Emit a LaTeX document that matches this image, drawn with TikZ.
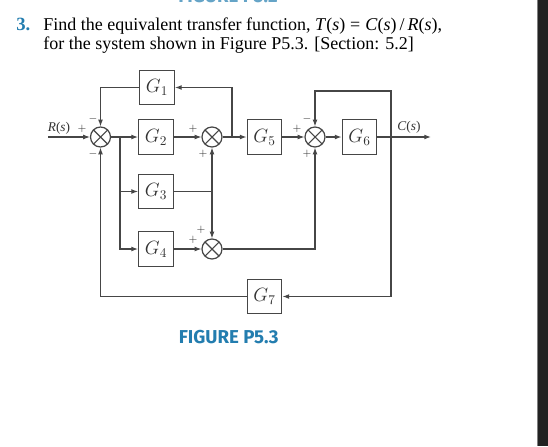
\documentclass[tikz,border=0pt]{standalone}
\usepackage{fontspec}
\setmainfont{Liberation Serif}
\newfontfamily\figfont{Fira Sans}
\usetikzlibrary{arrows.meta}
\definecolor{figblue}{RGB}{35,125,175}
\definecolor{ln}{RGB}{70,70,70}
\definecolor{bar}{RGB}{34,34,34}
\begin{document}
\begin{tikzpicture}[x=0.75pt,y=-0.75pt,
  blk/.style={draw=ln, line width=0.9pt, minimum width=26pt, minimum height=26pt, inner sep=0pt, text=black!80, font=\Large},
  sumj/.style={draw=ln, circle, line width=0.9pt, minimum size=15pt, inner sep=0pt,
    path picture={\draw[ln, line width=0.8pt] (path picture bounding box.north west)--(path picture bounding box.south east) (path picture bounding box.north east)--(path picture bounding box.south west);}},
  wire/.style={draw=ln, line width=0.8pt},
  arr/.style={wire, -{Latex[length=5pt,width=3.6pt]}},
  sgn/.style={font=\footnotesize, text=black!80, inner sep=0pt},
  lbl/.style={font=\normalsize, text=black!80, inner sep=0pt}]
\useasboundingbox[fill=white] (0,0) rectangle (548,446);
\fill[bar] (537,0) rectangle (548,446);
\draw[gray, line width=0.6pt] (537.5,0) -- (537.5,446);
% cut-off caption of the previous figure
\node[anchor=base west, inner sep=0pt, text=figblue!70, font=\figfont\bfseries\fontsize{14}{16}\selectfont] (prevcap) at (178,2.2) {FIGURE P5.2};
% title
\node[anchor=base west, inner sep=0pt, text=figblue, font=\bfseries\fontsize{14}{16}\selectfont] (num) at (16,30) {3.};
\node[anchor=base west, inner sep=0pt, font=\fontsize{13.5}{16}\selectfont] (t1) at (43,30) {Find the equivalent transfer function, \textit{T}(\textit{s})\;=\;\textit{C}(\textit{s})\,/\,\textit{R}(\textit{s}),};
\node[anchor=base west, inner sep=0pt, font=\fontsize{13.5}{16}\selectfont] (t2) at (43,49.5) {for the system shown in Figure P5.3. [Section: 5.2]};
% blocks and summing junctions
\node[sumj] (s1) at (100.5,137) {};
\node[blk] (g1) at (157,87.5) {$G_1$};
\node[blk] (g2) at (156,137) {$G_2$};
\node[blk] (g3) at (156,191.5) {$G_3$};
\node[blk] (g4) at (156,249) {$G_4$};
\node[sumj] (s2) at (212,137) {};
\node[sumj] (s4) at (212,249) {};
\node[blk] (g5) at (264.5,137) {$G_5$};
\node[sumj] (s3) at (315,137) {};
\node[blk] (g6) at (359.5,137) {$G_6$};
\node[blk] (g7) at (264.5,296.5) {$G_7$};
% coordinates
\coordinate (rin) at (48,137);
\coordinate (cout) at (431,137);
\coordinate (b1) at (120,137);
\coordinate (b2) at (232,137);
\coordinate (j3) at (212,191.5);
\coordinate (b3) at (391,137);
\coordinate (s3t) at (315,91);
% connectors
\draw[arr] (rin) -- (s1);
\draw[arr] (s1) -- (g2);
\draw[arr] (b1) |- (g3);
\draw[arr] (b1) |- (g4);
\draw[arr] (g2) -- (s2);
\draw[arr] (s2) -- (g5);
\draw[arr] (b2) |- (g1);
\draw[arr] (g1) -| (s1);
\draw[arr] (g5) -- (s3);
\draw[arr] (s3) -- (g6);
\draw[arr] (g6) -- (cout);
\draw[arr] (b3) |- (s3t) -- (s3);
\draw[arr] (b3) |- (g7);
\draw[arr] (g7) -| (s1);
\draw[wire] (g3) -- (j3);
\draw[arr] (j3) -- (s2);
\draw[arr] (j3) -- (s4);
\draw[arr] (g4) -- (s4);
\draw[arr] (s4) -| (s3);
% signal labels
\node[lbl] (rl) at (59,128) {\textit{R}(\textit{s})};
\node[lbl] (cl) at (409,127) {\textit{C}(\textit{s})};
% signs
\node[sgn] at (82,129) {$+$};
\node[sgn] at (93,119) {$-$};
\node[sgn] at (93,153.5) {$-$};
\node[sgn] at (193,129) {$+$};
\node[sgn] at (203,153.5) {$+$};
\node[sgn] at (297,129) {$+$};
\node[sgn] at (307,119) {$-$};
\node[sgn] at (307,154) {$+$};
\node[sgn] at (201,230) {$+$};
\node[sgn] at (193,240) {$+$};
% caption
\node[anchor=base west, inner sep=0pt, text=figblue, font=\figfont\bfseries\fontsize{14}{16}\selectfont] (cap) at (178.5,343) {FIGURE P5.3};
\end{tikzpicture}
\end{document}
